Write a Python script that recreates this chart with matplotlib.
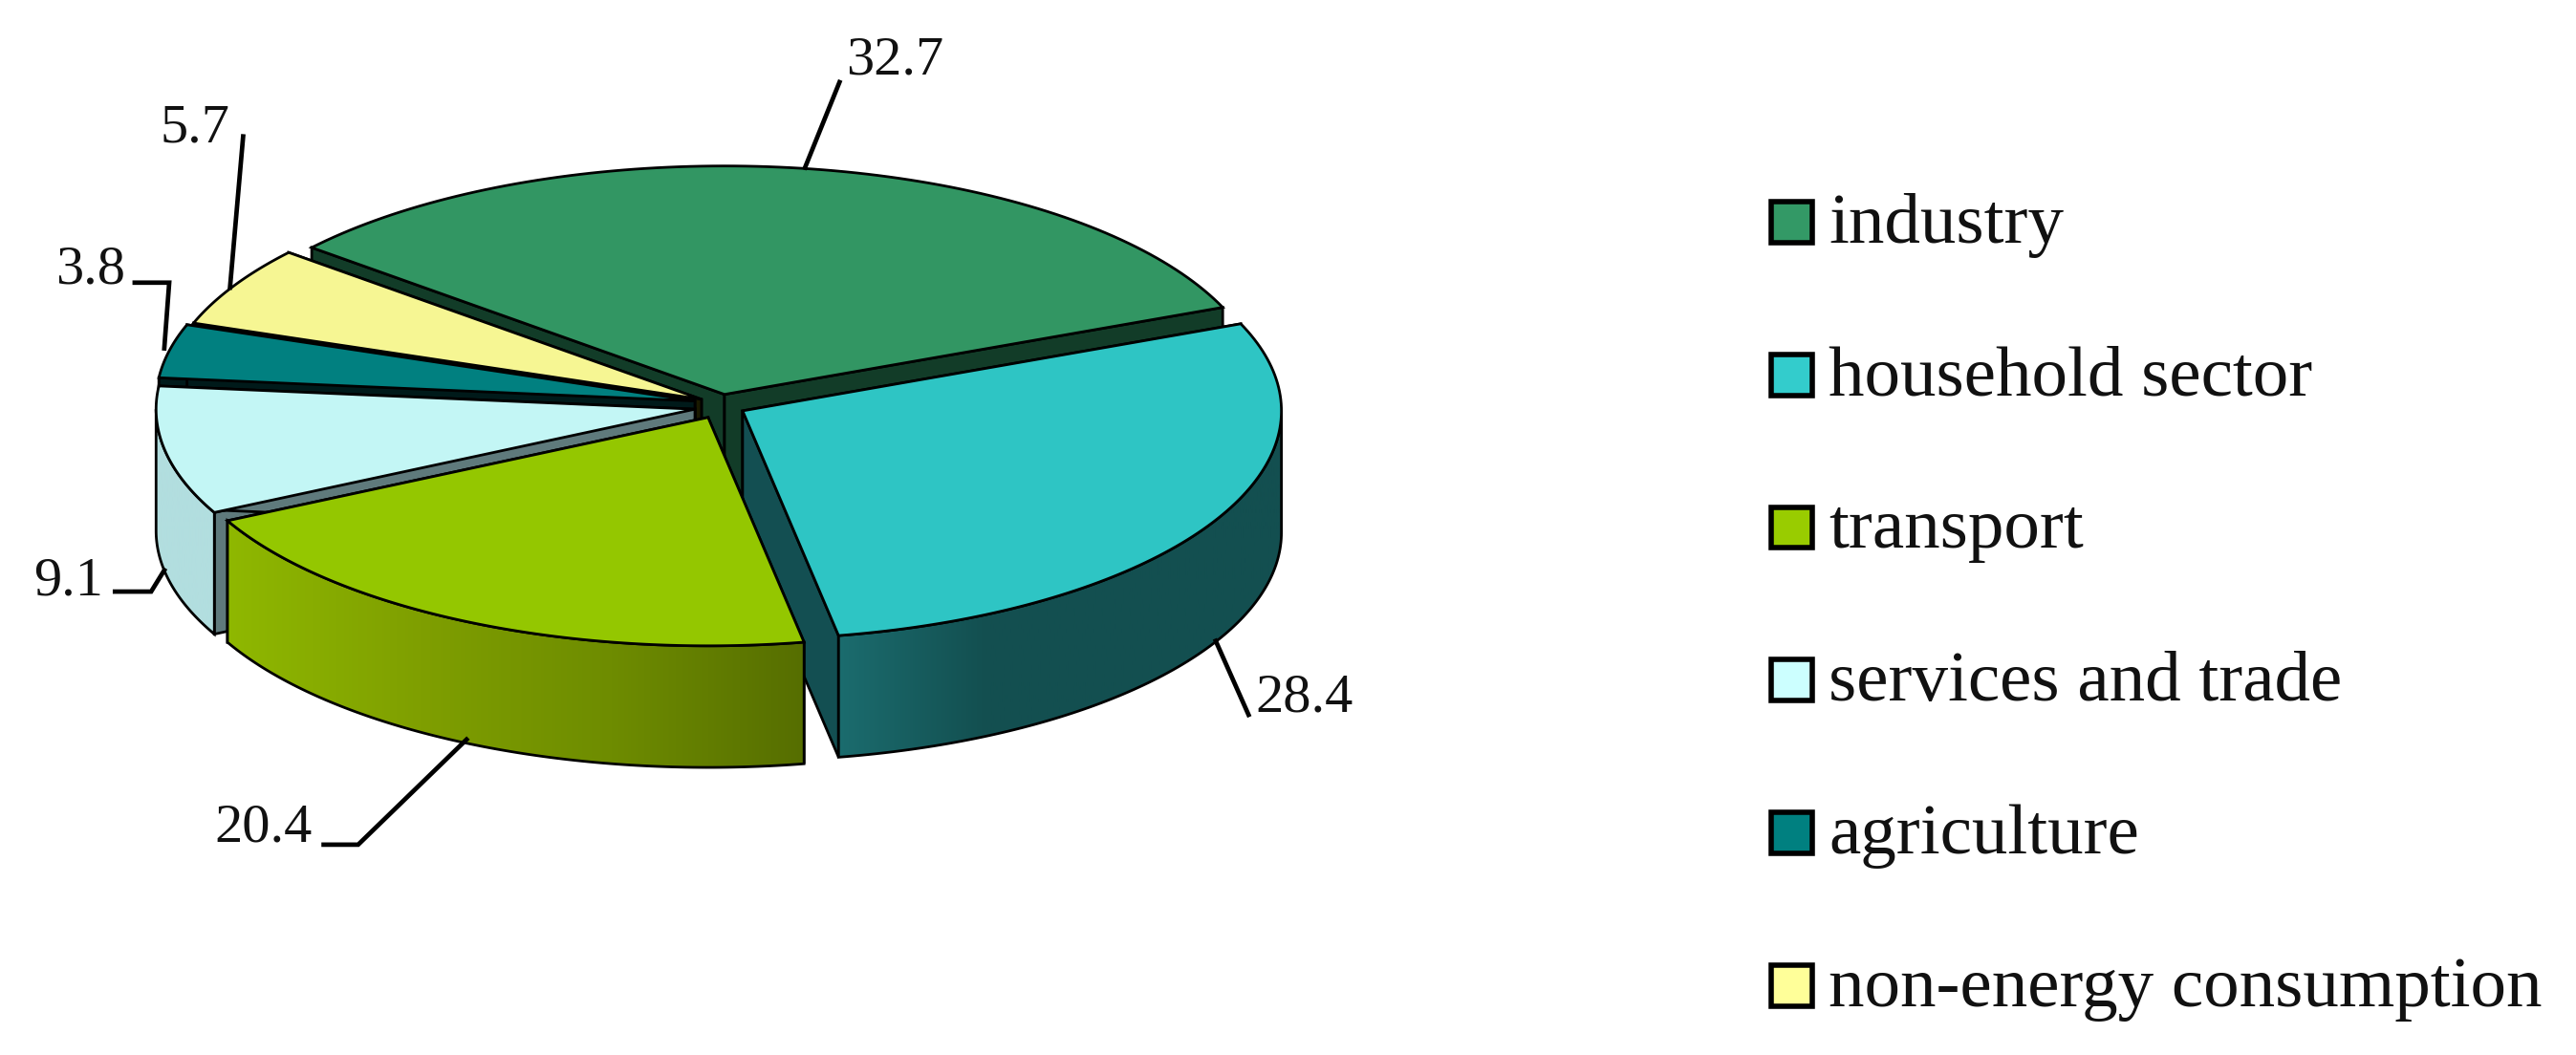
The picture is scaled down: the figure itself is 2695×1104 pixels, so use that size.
import numpy as np
import matplotlib

matplotlib.use("Agg")
import matplotlib.pyplot as plt
from matplotlib.colors import LinearSegmentedColormap
from matplotlib.patches import Polygon, Rectangle

# Chart data
categories = [
    "industry",
    "household sector",
    "transport",
    "services and trade",
    "agriculture",
    "non-energy consumption",
]
values = [32.7, 28.4, 20.4, 9.1, 3.8, 5.7]

# Colours
top_colors = ["#329663", "#2EC5C4", "#94C700", "#C3F6F5", "#018080", "#F6F693"]
legend_colors = ["#339966", "#33CCCC", "#99CC00", "#CCFFFF", "#008080", "#FFFF99"]
cut_colors = ["#123C28", "#134F52", "#5C7000", "#5F7A7C", "#001A1A", "#1A1A00"]
rim_colors = [
    ["#123C28", "#123C28"],
    ["#1B6C6E", "#134F50", "#134F50", "#134F50"],
    ["#8FB800", "#7F9F00", "#6E8C00", "#566E00"],
    ["#B2DEDF", "#B2DEDF"],
    ["#001A1A", "#001A1A"],
    ["#1A1A00", "#1A1A00"],
]

# Pie layout, units are pixels of the 1568 wide view
start_angle = -50.0
rx, ry, depth = 328, 139, 74
apex = [(441, 240), (452, 250), (431, 254), (423, 249), (423, 244), (427, 243)]
# household goes before transport so the green top stays over its cut face
draw_order = [0, 5, 4, 3, 1, 2]

# Leader lines and label anchors
leaders = [
    [(490, 102), (511, 50)],
    [(740, 390), (760, 435)],
    [(284, 450), (218, 514), (197, 514)],
    [(100, 347), (92, 360), (70, 360)],
    [(100, 212), (103, 172), (82, 172)],
    [(140, 175), (148, 83)],
]
label_pos = [(515, 37), (764, 425), (190, 504), (63, 354), (76, 164), (140, 78)]
label_align = ["left", "left", "right", "right", "right", "right"]

legend_x = 1078
legend_y = [135, 228, 321, 414, 507, 600]
box_size = 25
font = "Liberation Serif"


def rim_point(center, angle):
    rad = np.radians(angle)
    return center[0] + rx * np.sin(rad), center[1] - ry * np.cos(rad)


def arc(center, a0, a1):
    ang = np.linspace(a0, a1, 100)
    return np.column_stack(rim_point(center, ang))


fig = plt.figure(figsize=(26.95, 11.04), facecolor="white")
ax = fig.add_axes([0, 0, 1, 1])

# Angles come from the values
sweeps = np.array(values) / sum(values) * 360
starts = start_angle + np.concatenate([[0], np.cumsum(sweeps)[:-1]])

z = 2
for i in draw_order:
    a0, a1 = starts[i], starts[i] + sweeps[i]
    center = apex[i]

    # cut faces of the wedge
    for a in (a0, a1):
        p = rim_point(center, a)
        cut = [
            center,
            p,
            (p[0], p[1] + depth),
            (center[0], center[1] + depth),
        ]
        ax.add_patch(Polygon(cut, fc=cut_colors[i], ec="black", lw=2, zorder=z))

    # outer wall, only the part facing the viewer
    w0, w1 = max(a0, 90), min(a1, 270)
    if w0 < w1:
        upper = arc(center, w0, w1)
        lower = upper[::-1] + [0, depth]
        wall = Polygon(np.vstack([upper, lower]), fc="none", ec="black", lw=2, zorder=z + 0.2)
        ax.add_patch(wall)
        cmap = LinearSegmentedColormap.from_list("rim", rim_colors[i])
        img = ax.imshow(
            np.linspace(0, 1, 256).reshape(1, -1),
            cmap=cmap,
            aspect="auto",
            extent=(upper[:, 0].min(), upper[:, 0].max(), 0, 642),
            zorder=z + 0.1,
        )
        img.set_clip_path(wall)

    # top face
    top = np.vstack([[center], arc(center, a0, a1)])
    ax.add_patch(Polygon(top, fc=top_colors[i], ec="black", lw=2, zorder=z + 0.3))
    z += 1

for line, pos, ha, val in zip(leaders, label_pos, label_align, values):
    xs, ys = zip(*line)
    ax.plot(xs, ys, color="black", lw=3.4, solid_joinstyle="miter", zorder=20)
    ax.text(pos[0], pos[1], f"{val}", ha=ha, va="center", fontsize=42, family=font, color="#111111", zorder=21)

for name, col, y in zip(categories, legend_colors, legend_y):
    ax.add_patch(
        Rectangle(
            (legend_x, y - box_size / 2), box_size, box_size,
            fc=col, ec="black", lw=4, zorder=20,
        )
    )
    ax.text(legend_x + 35, y + 2, name, ha="left", va="center", fontsize=54, family=font, color="#111111")

ax.set_xlim(0, 1568)
ax.set_ylim(642, 0)
ax.axis("off")

fig.savefig("out.png", dpi=100)
